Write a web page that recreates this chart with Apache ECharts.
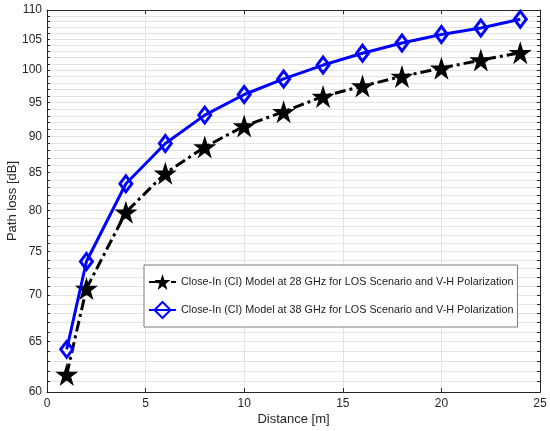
<!DOCTYPE html>
<html>
<head>
<meta charset="utf-8">
<script src="https://cdn.jsdelivr.net/npm/echarts@6/dist/echarts.min.js"></script>
<style>
html,body{margin:0;padding:0;background:#fff;}
#chart{width:550px;height:431px;}
</style>
</head>
<body>
<div id="chart"></div>
<script>
var distance = [1, 2, 4, 6, 8, 10, 12, 14, 16, 18, 20, 22, 24];
var pl28 = [61.7, 70.7, 79.8, 84.9, 88.5, 91.5, 93.6, 95.9, 97.5, 99.0, 100.3, 101.6, 102.8];
var pl38 = [64.2, 73.8, 83.5, 89.0, 93.1, 96.2, 98.6, 100.8, 102.7, 104.4, 105.8, 106.9, 108.4];
var yLabels = [60, 65, 70, 75, 80, 85, 90, 95, 100, 105, 110];
var yMinor = [];
for (var v = 60; v <= 110; v++) yMinor.push(v);
var name28 = 'Close-In (CI) Model at 28 GHz for LOS Scenario and V-H Polarization';
var name38 = 'Close-In (CI) Model at 38 GHz for LOS Scenario and V-H Polarization';

function pairs(xs, ys) { return xs.map(function (x, i) { return [x, ys[i]]; }); }

var starPath = 'path://M50,0 L61.2,34.5 L97.6,34.5 L68.2,55.9 L79.4,90.5 L50,69.1 L20.6,90.5 L31.8,55.9 L2.4,34.5 L38.8,34.5 Z';
var axisColor = '#262626';
var gridColor = '#e3e3e3';
var font = 'Liberation Sans, Arial, Helvetica, sans-serif';

var chart = echarts.init(document.getElementById('chart'));
chart.setOption({
  animation: false,
  backgroundColor: '#fff',
  grid: { left: 47, right: 10, top: 10, bottom: 39, containLabel: false, outerBoundsMode: 'none' },
  legend: {
    orient: 'vertical',
    left: 144, top: 265,
    padding: [9, 4, 8, 4],
    backgroundColor: '#fff',
    borderColor: '#7a7a7a',
    borderWidth: 1,
    itemWidth: 27,
    itemHeight: 20,
    itemGap: 11,
    textStyle: { fontSize: 10.8, color: '#222', fontFamily: font },
    data: [name28, name38]
  },
  xAxis: [{
    type: 'value', min: 0, max: 25, interval: 5,
    name: 'Distance [m]', nameLocation: 'middle', nameGap: 21, nameMoveOverlap: false,
    nameTextStyle: { fontSize: 13, color: axisColor, fontFamily: font },
    axisLine: { show: true, onZero: false, lineStyle: { color: axisColor, width: 1 } },
    axisTick: { show: true, inside: true, length: 4, lineStyle: { color: axisColor } },
    axisLabel: { fontSize: 12, color: axisColor, margin: 6, fontFamily: font },
    splitLine: { show: true, lineStyle: { color: gridColor, width: 1 } }
  }, {
    type: 'value', min: 0, max: 25, interval: 5, position: 'top',
    axisLine: { show: true, onZero: false, lineStyle: { color: axisColor, width: 1 } },
    axisTick: { show: true, inside: true, length: 4, lineStyle: { color: axisColor } },
    axisLabel: { show: false },
    splitLine: { show: false }
  }],
  yAxis: [{
    type: 'log', logBase: 10, min: 60, max: 110,
    name: 'Path loss [dB]', nameLocation: 'middle', nameGap: 28, nameMoveOverlap: false,
    nameTextStyle: { fontSize: 13, color: axisColor, fontFamily: font },
    axisLine: { show: true, onZero: false, lineStyle: { color: axisColor, width: 1 } },
    axisTick: { show: true, inside: true, length: 3, customValues: yMinor, lineStyle: { color: axisColor } },
    axisLabel: { fontSize: 12, color: axisColor, margin: 5, fontFamily: font, customValues: yLabels },
    splitLine: { show: true, lineStyle: { color: gridColor, width: 1 } }
  }, {
    type: 'log', logBase: 10, min: 60, max: 110, position: 'right',
    axisLine: { show: true, onZero: false, lineStyle: { color: axisColor, width: 1 } },
    axisTick: { show: true, inside: true, length: 3, customValues: yMinor, lineStyle: { color: axisColor } },
    axisLabel: { show: false },
    splitLine: { show: false }
  }],
  series: [{
    name: name28,
    type: 'line',
    data: pairs(distance, pl28),
    symbol: starPath,
    symbolSize: 23,
    showAllSymbol: true,
    lineStyle: { color: '#000', width: 3, type: [11, 4, 3, 4] },
    itemStyle: { color: '#000', borderWidth: 0 },
    z: 3
  }, {
    name: name38,
    type: 'line',
    data: pairs(distance, pl38),
    symbol: 'diamond',
    symbolSize: [12, 16],
    showAllSymbol: true,
    lineStyle: { color: '#0000ff', width: 3, type: 'solid' },
    itemStyle: { color: 'rgba(255,255,255,0)', borderColor: '#0000ff', borderWidth: 3 },
    z: 4
  }]
});
</script>
</body>
</html>
